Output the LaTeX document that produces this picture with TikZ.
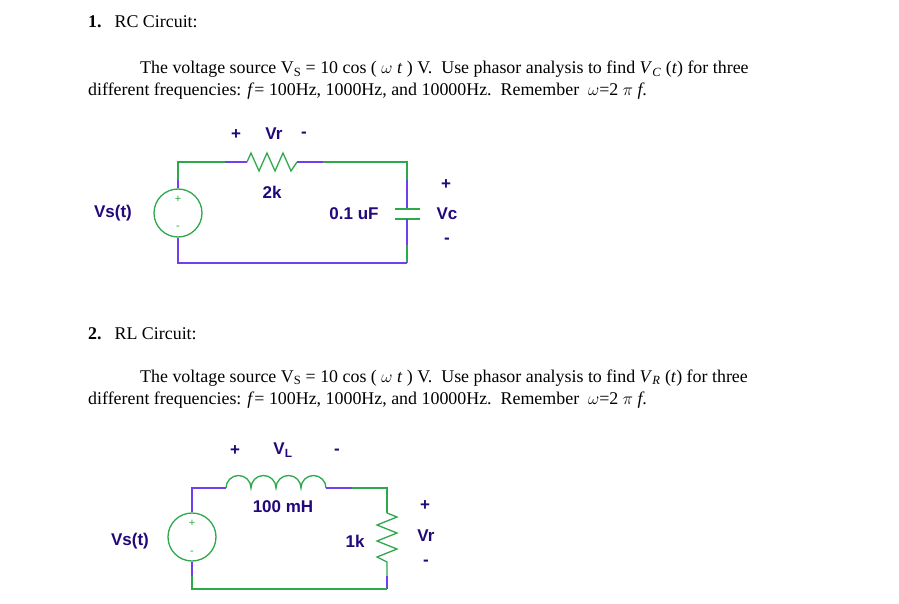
\documentclass[tikz,border=0pt]{standalone}
\usepackage{fontspec}
\setmainfont{Liberation Serif}
\newfontfamily\lsans{Liberation Sans}
\definecolor{wgreen}{HTML}{2DA84A}
\definecolor{wpurp}{HTML}{7040F0}
\definecolor{lbl}{HTML}{22087A}
\begin{document}
\begin{tikzpicture}[x=1pt,y=-1pt,
  body/.style={anchor=base west,inner sep=0pt,font=\fontsize{17.9}{20}\selectfont},
  lab/.style={inner sep=0pt,text=lbl,font=\lsans\bfseries\fontsize{17}{19}\selectfont},
  sm/.style={inner sep=0pt,text=wgreen,font=\lsans\fontsize{11}{12}\selectfont},
  gw/.style={draw=wgreen,line width=1.3pt},
  pw/.style={draw=wpurp,line width=1.3pt}]
\useasboundingbox (0,0) rectangle (899,604);
\fill[white] (0,0) rectangle (899,604);
% texts
\node[body] (t1) at (88,28) {\textbf{1.}\hspace{13pt}RC Circuit:};
\node[body] (p1a) at (140,74) {The voltage source V\textsubscript{S} = 10 cos ( $\omega$ \textit{t} ) V.\ \ Use phasor analysis to find \textit{V}\textsubscript{\textit{C}} (\textit{t}) for three};
\node[body] (p1b) at (88,96) {different frequencies: \textit{f}= 100Hz, 1000Hz, and 10000Hz.\ \ Remember \ $\omega$=2 $\pi$ \textit{f}.};
\node[body] (t2) at (88,339) {\textbf{2.}\hspace{13pt}RL Circuit:};
\node[body] (p2a) at (140,382) {The voltage source V\textsubscript{S} = 10 cos ( $\omega$ \textit{t} ) V.\ \ Use phasor analysis to find \textit{V}\textsubscript{\textit{R}} (\textit{t}) for three};
\node[body] (p2b) at (88,404) {different frequencies: \textit{f}= 100Hz, 1000Hz, and 10000Hz.\ \ Remember \ $\omega$=2 $\pi$ \textit{f}.};
% ---------- circuit 1
\coordinate (a1) at (178,162); \coordinate (b1) at (407,162);
\coordinate (c1) at (407,263); \coordinate (d1) at (178,263);
\node[draw=wgreen,line width=1.3pt,circle,minimum size=48pt,inner sep=0pt] (s1) at (178,213) {};
\node[sm] at (178,199) {+}; \node[sm] at (178,228) {-};
\draw[pw] (s1.north) -- (178,180); \draw[gw] (178,180) -- (a1) -- (225,162);
\draw[pw] (225,162) -- (247,162);
\draw[gw] (247,162) -- (251,153) -- (259,171) -- (267,153) -- (275,171) -- (283,153) -- (291,171) -- (297,162);
\draw[pw] (297,162) -- (323,162); \draw[gw] (323,162) -- (b1) -- (407,180);
\draw[pw] (407,180) -- (407,209);
\draw[gw] (395,209) -- (420,209); \draw[gw] (395,219) -- (420,219);
\draw[pw] (407,219) -- (407,245); \draw[gw] (407,245) -- (c1);
\draw[pw] (c1) -- (d1) -- (s1.south);
\node[lab] at (236,135) {+}; \node[lab] at (274,134) {Vr}; \node[lab] at (304,135) {-};
\node[lab] at (272,192) {2k};
\node[lab] at (113,213) {Vs(t)};
\node[lab] at (354,214) {0.1 uF};
\node[lab] at (446,185) {+}; \node[lab] at (447,214) {Vc}; \node[lab] at (447,241) {-};
% ---------- circuit 2
\coordinate (a2) at (192,488); \coordinate (b2) at (387,488);
\coordinate (c2) at (387,589); \coordinate (d2) at (192,589);
\node[draw=wgreen,line width=1.3pt,circle,minimum size=48pt,inner sep=0pt] (s2) at (192,537) {};
\node[sm] at (192,523) {+}; \node[sm] at (192,553) {-};
\draw[pw] (s2.north) -- (a2) -- (226,488);
\draw[gw] (226,488) arc (180:360:12.5) arc (180:360:12.5) arc (180:360:12.5) arc (180:360:12.5);
\draw[pw] (326,488) -- (352,488); \draw[gw] (352,488) -- (b2) -- (387,513);
\draw[gw] (387,513) -- (397,517) -- (377,525) -- (397,533) -- (377,541) -- (397,549) -- (377,557) -- (387,562) -- (387,576);
\draw[pw] (387,576) -- (c2);
\draw[gw] (c2) -- (d2) -- (192,576); \draw[pw] (192,576) -- (s2.south);
\node[lab] at (235,451) {+}; \node[lab] at (283,450) {V\textsubscript{L}}; \node[lab] at (337,452) {-};
\node[lab] at (283,507) {100 mH};
\node[lab] at (130,541) {Vs(t)};
\node[lab] at (355,541) {1k};
\node[lab] at (425,506) {+}; \node[lab] at (426,536) {Vr}; \node[lab] at (426,563) {-};
\end{tikzpicture}
\end{document}
